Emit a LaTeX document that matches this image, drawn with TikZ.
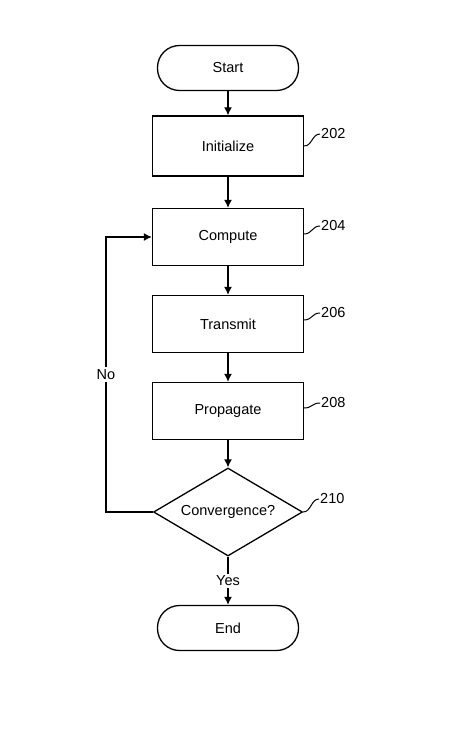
\documentclass[tikz,border=0pt]{standalone}
\usepackage{fontspec}
\setmainfont{Liberation Sans}
\usetikzlibrary{shapes.geometric,arrows.meta}
\begin{document}
\begin{tikzpicture}[x=1pt,y=-1pt,
  every node/.style={font=\fontsize{14.5}{17}\selectfont},
  terminal/.style={draw,line width=1.3pt,rounded corners=22pt,minimum width=141pt,minimum height=45pt},
  stepbox/.style={draw,line width=1.3pt,minimum width=151pt,minimum height=57pt},
  decision/.style={draw,line width=1.3pt,diamond,aspect=1.7,inner sep=0pt,minimum width=149pt,minimum height=88pt},
  tag/.style={anchor=west,inner sep=1pt},
  flow/.style={line width=1.3pt,-{Latex[length=8pt,width=8pt]}},
  leader/.style={line width=1pt}]
  \useasboundingbox (0,0) rectangle (474,735);
  \node [terminal] (start) at (228,68) {Start};
  \node [stepbox,minimum height=60pt] (init) at (228,146) {Initialize};
  \node [stepbox] (compute) at (228,237) {Compute};
  \node [stepbox] (transmit) at (228,324) {Transmit};
  \node [stepbox] (propagate) at (228,411) {Propagate};
  \node [decision] (conv) at (228,512) {Convergence?};
  \node [terminal] (stop) at (228,628) {End};
  % reference numerals
  \node [tag] (n202) at (320,134) {202};
  \node [tag] (n204) at (320,226) {204};
  \node [tag] (n206) at (320,313) {206};
  \node [tag] (n208) at (320,403) {208};
  \node [tag] (n210) at (319,499) {210};
  \draw [leader] (init.east) .. controls +(8,0) and +(-8,0) .. (n202.west);
  \draw [leader] ([yshift=3pt]compute.east) .. controls +(8,0) and +(-8,0) .. (n204.west);
  \draw [leader] ([yshift=4pt]transmit.east) .. controls +(8,0) and +(-8,0) .. (n206.west);
  \draw [leader] ([yshift=3pt]propagate.east) .. controls +(8,0) and +(-8,0) .. (n208.west);
  \draw [leader] (conv.east) .. controls +(8,0) and +(-8,0) .. (n210.west);
  % flow
  \draw [flow] (start) -- (init);
  \draw [flow] (init) -- (compute);
  \draw [flow] (compute) -- (transmit);
  \draw [flow] (transmit) -- (propagate);
  \draw [flow] (propagate) -- (conv);
  \draw [flow] (conv) -- node [fill=white,inner sep=2pt] (yes) {Yes} (stop);
  \draw [flow] (conv.west) -- ++(-47,0) |- node [pos=0.25,fill=white,inner sep=2pt] (no) {No} (compute.west);
\end{tikzpicture}
\end{document}
